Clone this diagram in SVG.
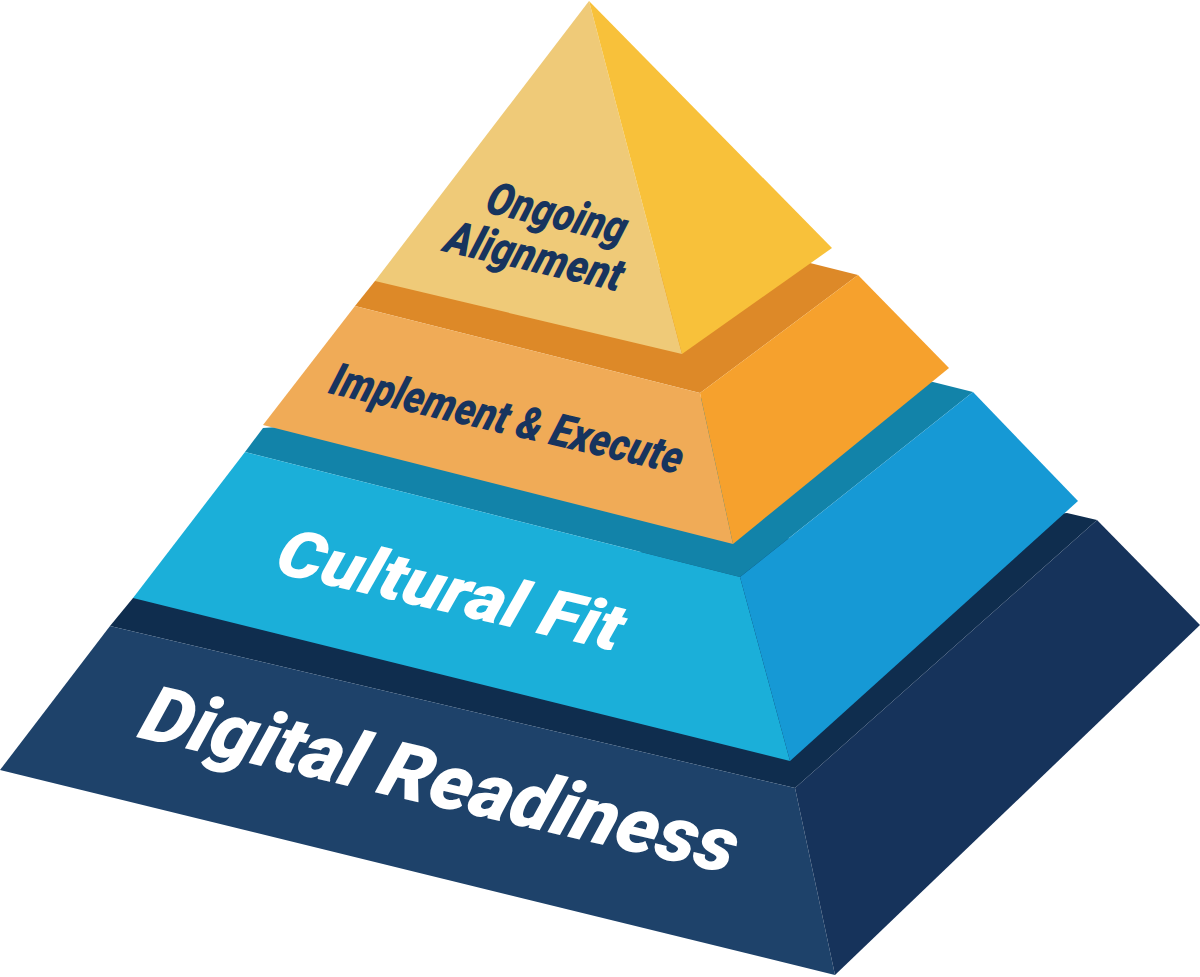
<svg xmlns="http://www.w3.org/2000/svg" width="1200" height="977" viewBox="0 0 1200 977">
<style>
.t{font-family:Roboto,"Liberation Sans",sans-serif;font-weight:900;font-style:italic}
.dk{fill:#17345E}
.wt{fill:#FFFFFF}
</style>
<rect width="1200" height="977" fill="#FFFFFF"/>
<g id="layer-digital-readiness">
<polygon points="110,626 133,598 1067,513 1097,520 795,788" fill="#0F2D4E"/>
<polygon points="110,626 795,788 835,975 0,770" fill="#1E426A"/>
<polygon points="795,788 1097,520 1200,625 835,975" fill="#16335B"/>
<text class="t wt" font-size="78" textLength="608" lengthAdjust="spacingAndGlyphs" transform="translate(136,737) rotate(13) skewX(-6)">Digital Readiness</text>
</g>
<g id="layer-cultural-fit">
<polygon points="245,452 263,428 933,382 973,392 740,577" fill="#1283A9"/>
<polygon points="245,452 740,577 790,761 133,598" fill="#1BAFD9"/>
<polygon points="740,577 973,392 1078,501 790,761" fill="#1699D5"/>
<text class="t wt" font-size="66" textLength="352" lengthAdjust="spacingAndGlyphs" transform="translate(272,572) rotate(13) skewX(-6)">Cultural Fit</text>
</g>
<g id="layer-implement-execute">
<polygon points="355,306 375,281 810,263 858,275 700,393" fill="#DD8928"/>
<polygon points="355,306 700,393 733,544 263,425" fill="#F0AB57"/>
<polygon points="700,393 858,275 949,368 733,544" fill="#F6A12D"/>
<text class="t dk" font-size="46" textLength="360" lengthAdjust="spacingAndGlyphs" transform="translate(327,393) rotate(13) skewX(-6)">Implement &amp; Execute</text>
</g>
<g id="layer-ongoing-alignment">
<polygon points="589,1 682,354 375,281" fill="#EFCA78"/>
<polygon points="589,1 832,248 682,354" fill="#F8C13A"/>
<text class="t dk" font-size="46" textLength="142" lengthAdjust="spacingAndGlyphs" transform="translate(483,212) rotate(13) skewX(-6)">Ongoing</text>
<text class="t dk" font-size="46" textLength="180" lengthAdjust="spacingAndGlyphs" transform="translate(442,251) rotate(13) skewX(-6)">Alignment</text>
</g>
</svg>
